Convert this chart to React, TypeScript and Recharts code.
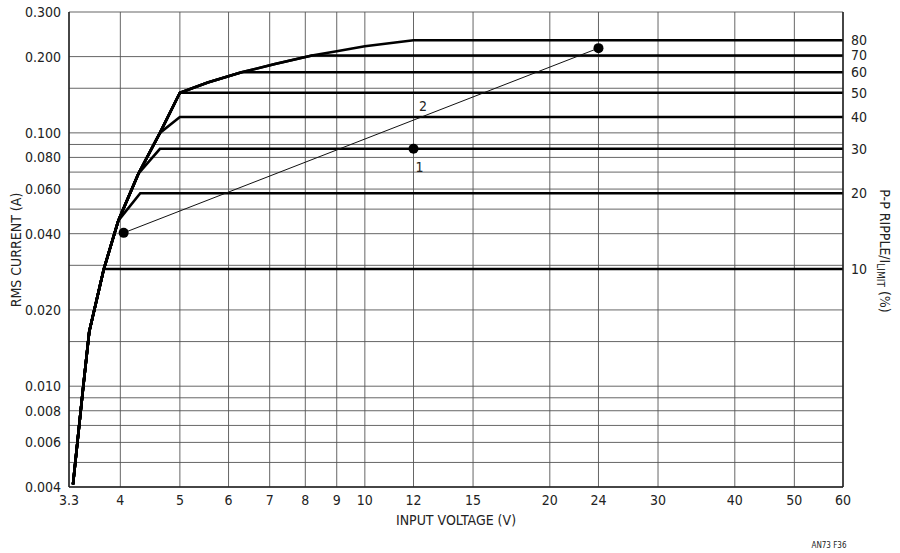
import React from 'react';
import { ComposedChart, Line, XAxis, YAxis, CartesianGrid, ReferenceDot } from 'recharts';

const FONT = "'Liberation Sans Narrow', 'DejaVu Sans Condensed', 'Liberation Sans', Arial, sans-serif";

// axes
const voltTicks = [3.3, 4, 5, 6, 7, 8, 9, 10, 12, 15, 20, 24, 30, 40, 50, 60];
const currentGrid = [0.004, 0.005, 0.006, 0.007, 0.008, 0.009, 0.01, 0.015, 0.02, 0.03, 0.04, 0.05, 0.06, 0.07, 0.08, 0.09, 0.1, 0.15, 0.2, 0.3];
const currentLabels = [0.004, 0.006, 0.008, 0.01, 0.02, 0.04, 0.06, 0.08, 0.1, 0.2, 0.3];

// common rising curve (V, A)
const envV = [3.35, 3.48, 3.56, 3.76, 3.97, 4.28, 4.64, 5.0, 5.55, 6.3, 7.14, 8.2, 9.0, 10.0, 12.0];
const envI = [0.0041, 0.0099, 0.0164, 0.029, 0.045, 0.069, 0.1, 0.144, 0.158, 0.1734, 0.187, 0.202, 0.21, 0.2197, 0.232];

// ripple curves: level, where they leave the common curve, where they go flat
const ripplePct = [10, 20, 30, 40, 50, 60, 70, 80];
const rippleI = [0.029, 0.0578, 0.0865, 0.1155, 0.144, 0.1734, 0.202, 0.232];
const leaveV = [3.76, 3.97, 4.28, 4.64, 5.0, 6.3, 8.2, 12.0];
const kneeV = [3.76, 4.31, 4.64, 5.0, 5.0, 6.3, 8.2, 12.0];

// example lines
const line2V = [4.05, 24];
const line2I = [0.0403, 0.216];
const point1 = { v: 12, i: 0.0865 };
const label2 = { v: 12.43, i: 0.128 };

const rippleSeries = ripplePct.map((pct, k) => {
  const pts = envV
    .map((v, j) => ({ v, i: envI[j] }))
    .filter(p => p.v <= leaveV[k]);
  pts.push({ v: kneeV[k], i: rippleI[k] });
  pts.push({ v: 60, i: rippleI[k] });
  return { pct, pts };
});

const line2 = line2V.map((v, j) => ({ v, i: line2I[j] }));

const fmtCurrent = (val: number) => {
  const hit = currentLabels.find(c => Math.abs(c - val) < 1e-9);
  return hit !== undefined ? hit.toFixed(3) : '';
};

const fmtRipple = (val: number) => {
  const k = rippleI.findIndex(c => Math.abs(c - val) < 1e-9);
  return k >= 0 ? String(ripplePct[k]) : '';
};

const Dot = (props: any) => <circle cx={props.cx} cy={props.cy} r={5} fill="#000" />;

export default function App() {
  return (
    <div style={{ position: 'absolute', left: 0, top: 0, width: 900, height: 553, background: '#fff', fontFamily: FONT }}>
      <ComposedChart width={900} height={553} margin={{ top: 12, right: 7, bottom: 36, left: 9 }}>
        <CartesianGrid
          xAxisId="x"
          yAxisId="left"
          stroke="#555"
          strokeWidth={1}
          strokeOpacity={0.9}
        />
        <XAxis
          xAxisId="x"
          dataKey="v"
          type="number"
          scale="log"
          domain={[3.3, 60]}
          ticks={voltTicks}
          interval={0}
          allowDataOverflow
          tickLine={false}
          axisLine={{ stroke: '#222', strokeWidth: 1.5 }}
          tick={{ fontSize: 14, fill: '#222', fontFamily: FONT }}
          tickFormatter={(v: number) => String(v)}
          height={30}
        />
        <YAxis
          yAxisId="left"
          type="number"
          scale="log"
          domain={[0.004, 0.3]}
          ticks={currentGrid}
          interval={0}
          allowDataOverflow
          tickLine={false}
          axisLine={{ stroke: '#222', strokeWidth: 1.5 }}
          tick={{ fontSize: 14, fill: '#222', fontFamily: FONT }}
          tickFormatter={fmtCurrent}
          width={60}
        />
        <YAxis
          yAxisId="right"
          orientation="right"
          type="number"
          scale="log"
          domain={[0.004, 0.3]}
          ticks={rippleI}
          interval={0}
          allowDataOverflow
          tickLine={false}
          axisLine={{ stroke: '#222', strokeWidth: 1.5 }}
          tick={{ fontSize: 14, fill: '#222', fontFamily: FONT, textAnchor: 'start' }}
          tickFormatter={fmtRipple}
          width={50}
        />
        {rippleSeries.map(s => (
          <Line
            key={s.pct}
            xAxisId="x"
            yAxisId="left"
            data={s.pts}
            dataKey="i"
            type="linear"
            stroke="#000"
            strokeWidth={2.6}
            dot={false}
            isAnimationActive={false}
          />
        ))}
        <Line
          xAxisId="x"
          yAxisId="left"
          data={line2}
          dataKey="i"
          type="linear"
          stroke="#111"
          strokeWidth={1}
          dot={<Dot />}
          isAnimationActive={false}
        />
        <ReferenceDot
          xAxisId="x"
          yAxisId="left"
          x={point1.v}
          y={point1.i}
          r={5}
          fill="#000"
          stroke="none"
          label={{ value: '1', position: 'bottom', dx: 6, offset: 8, fontSize: 14, fill: '#222', fontFamily: FONT }}
        />
        <ReferenceDot
          xAxisId="x"
          yAxisId="left"
          x={label2.v}
          y={label2.i}
          r={0}
          fill="none"
          stroke="none"
          label={{ value: '2', position: 'center', fontSize: 14, fill: '#222', fontFamily: FONT }}
        />
      </ComposedChart>
      <svg width={900} height={553} style={{ position: 'absolute', left: 0, top: 0, pointerEvents: 'none' }}>
        <text x={456} y={525} textAnchor="middle" fontSize={14} fill="#222" fontFamily={FONT}>
          INPUT VOLTAGE (V)
        </text>
        <text
          x={0}
          y={0}
          transform="translate(21 250) rotate(-90)"
          textAnchor="middle"
          fontSize={14}
          fill="#222"
          fontFamily={FONT}
        >
          RMS CURRENT (A)
        </text>
        <text
          x={0}
          y={0}
          transform="translate(880 251) rotate(90)"
          textAnchor="middle"
          fontSize={14}
          fill="#222"
          fontFamily={FONT}
        >
          P-P RIPPLE/I
          <tspan fontSize={10} dy={3}>LIMIT</tspan>
          <tspan dy={-3}> (%)</tspan>
        </text>
        <text x={829} y={548} textAnchor="middle" fontSize={8} fill="#222" fontFamily={FONT}>
          AN73 F36
        </text>
      </svg>
    </div>
  );
}
